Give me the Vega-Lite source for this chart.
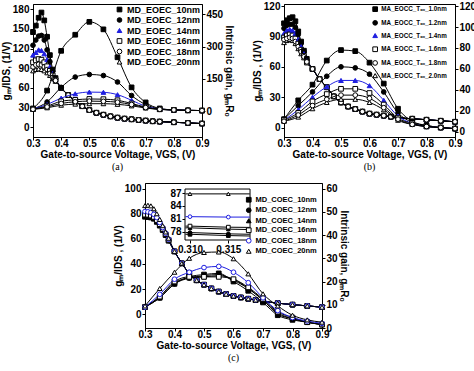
{
"$schema":"https://vega.github.io/schema/vega-lite/v6.json",
"padding":{"left":0,"top":0,"right":0,"bottom":0},
"config":{
 "view":{"stroke":"black","strokeWidth":1},
 "font":"Liberation Sans",
 "axis":{"labelFont":"Liberation Sans","labelFontWeight":"bold","labelFontSize":10,"labelColor":"black","titleFont":"Liberation Sans","titleFontWeight":"bold","titleFontSize":10,"titleColor":"black","grid":false,"tickColor":"black","domainColor":"black","tickSize":3,"labelPadding":1,"titlePadding":1,"labelFlush":false,"labelOverlap":false},
 "axisX":{"labelPadding":-2},
 "legend":{"labelFont":"Liberation Sans","labelFontWeight":"bold","labelColor":"black","symbolStrokeWidth":1,"padding":0,"symbolSize":22,"labelOffset":3,"titlePadding":0},
 "title":{"orient":"bottom","font":"Liberation Serif","fontSize":10,"fontWeight":"normal","color":"black","offset":3,"anchor":"middle","frame":"group"},
 "point":{"opacity":1,"size":22,"strokeWidth":1},
 "line":{"strokeWidth":1,"interpolate":"monotone"}
},
"datasets":{
 "a_gm":[
  {"v":0.30,"10":145,"12":125,"14":110,"16":99,"18":92,"20":86},
  {"v":0.31,"10":155,"12":133,"14":114,"16":102,"18":95,"20":88},
  {"v":0.32,"10":167,"12":139,"14":118,"16":104,"18":96,"20":89},
  {"v":0.33,"10":175,"12":140,"14":117,"16":103,"18":95,"20":88},
  {"v":0.34,"10":163,"12":133,"14":112,"16":99,"18":92,"20":86},
  {"v":0.35,"10":138,"12":118,"14":103,"16":93,"18":88,"20":83},
  {"v":0.36,"10":110,"12":100,"14":92,"16":86,"18":82,"20":79},
  {"v":0.37,"10":88,"12":85,"14":82,"16":79,"18":76,"20":74},
  {"v":0.38,"10":75,"12":74,"14":73,"16":72,"18":71,"20":70},
  {"v":0.40,"10":60,"12":60,"14":60,"16":60,"18":60,"20":60},
  {"v":0.425,"10":49,"12":49,"14":49,"16":49,"18":49,"20":49},
  {"v":0.45,"10":40,"12":40,"14":40,"16":40,"18":40,"20":40},
  {"v":0.475,"10":32,"12":32,"14":32,"16":32,"18":32,"20":32},
  {"v":0.50,"10":26,"12":26,"14":26,"16":26,"18":26,"20":26},
  {"v":0.525,"10":22,"12":22,"14":22,"16":22,"18":22,"20":22},
  {"v":0.55,"10":19,"12":19,"14":19,"16":19,"18":19,"20":19},
  {"v":0.575,"10":16.5,"12":16.5,"14":16.5,"16":16.5,"18":16.5,"20":16.5},
  {"v":0.60,"10":14.5,"12":14.5,"14":14.5,"16":14.5,"18":14.5,"20":14.5},
  {"v":0.625,"10":13,"12":13,"14":13,"16":13,"18":13,"20":13},
  {"v":0.65,"10":12,"12":12,"14":12,"16":12,"18":12,"20":12},
  {"v":0.675,"10":11,"12":11,"14":11,"16":11,"18":11,"20":11},
  {"v":0.70,"10":10,"12":10,"14":10,"16":10,"18":10,"20":10},
  {"v":0.725,"10":9,"12":9,"14":9,"16":9,"18":9,"20":9},
  {"v":0.75,"10":8.5,"12":8.5,"14":8.5,"16":8.5,"18":8.5,"20":8.5},
  {"v":0.80,"10":7.5,"12":7.5,"14":7.5,"16":7.5,"18":7.5,"20":7.5},
  {"v":0.85,"10":6.5,"12":6.5,"14":6.5,"16":6.5,"18":6.5,"20":6.5},
  {"v":0.90,"10":5.5,"12":5.5,"14":5.5,"16":5.5,"18":5.5,"20":5.5}
 ],
 "a_gain":[
  {"v":0.30,"10":12,"12":10,"14":10,"16":9,"18":8,"20":8},
  {"v":0.35,"10":95,"12":42,"14":30,"16":23,"18":19,"20":15},
  {"v":0.40,"10":280,"12":110,"14":60,"16":45,"18":35,"20":27},
  {"v":0.45,"10":355,"12":158,"14":80,"16":52,"18":43,"20":32},
  {"v":0.50,"10":415,"12":170,"14":88,"16":56,"18":46,"20":34},
  {"v":0.55,"10":380,"12":165,"14":87,"16":55,"18":45,"20":34},
  {"v":0.60,"10":250,"12":135,"14":76,"16":50,"18":41,"20":31},
  {"v":0.65,"10":110,"12":72,"14":50,"16":35,"18":30,"20":24},
  {"v":0.70,"10":40,"12":30,"14":22,"16":18,"18":16,"20":14},
  {"v":0.75,"10":12,"12":10,"14":9,"16":8,"18":8,"20":7},
  {"v":0.80,"10":5,"12":5,"14":5,"16":5,"18":5,"20":5},
  {"v":0.85,"10":3,"12":3,"14":3,"16":3,"18":3,"20":3},
  {"v":0.90,"10":2,"12":2,"14":2,"16":2,"18":2,"20":2}
 ],
 "b_gm":[
  {"v":0.30,"10":103,"12":98,"14":93,"16":89,"18":87,"20":84},
  {"v":0.31,"10":106,"12":101,"14":96,"16":91,"18":88,"20":86},
  {"v":0.32,"10":108,"12":102,"14":97,"16":92,"18":89,"20":87},
  {"v":0.33,"10":109,"12":102,"14":96,"16":91,"18":88,"20":86},
  {"v":0.34,"10":105,"12":99,"14":93,"16":88,"18":85,"20":83},
  {"v":0.35,"10":95,"12":92,"14":87,"16":83,"18":80,"20":78},
  {"v":0.36,"10":85,"12":83,"14":80,"16":77,"18":75,"20":73},
  {"v":0.37,"10":76,"12":75,"14":73,"16":71,"18":70,"20":69},
  {"v":0.38,"10":68,"12":67,"14":66,"16":65,"18":65,"20":64},
  {"v":0.40,"10":58,"12":58,"14":58,"16":58,"18":58,"20":58},
  {"v":0.425,"10":48,"12":48,"14":48,"16":48,"18":48,"20":48},
  {"v":0.45,"10":40,"12":40,"14":40,"16":40,"18":40,"20":40},
  {"v":0.475,"10":31,"12":31,"14":31,"16":31,"18":31,"20":31},
  {"v":0.50,"10":25,"12":25,"14":25,"16":25,"18":25,"20":25},
  {"v":0.525,"10":21,"12":21,"14":21,"16":21,"18":21,"20":21},
  {"v":0.55,"10":18.5,"12":18.5,"14":18.5,"16":18.5,"18":18.5,"20":18.5},
  {"v":0.575,"10":16,"12":16,"14":16,"16":16,"18":16,"20":16},
  {"v":0.60,"10":14,"12":14,"14":14,"16":14,"18":14,"20":14},
  {"v":0.625,"10":13,"12":13,"14":13,"16":13,"18":13,"20":13},
  {"v":0.65,"10":12,"12":12,"14":12,"16":12,"18":12,"20":12},
  {"v":0.675,"10":11,"12":11,"14":11,"16":11,"18":11,"20":11},
  {"v":0.70,"10":10,"12":10,"14":10,"16":10,"18":10,"20":10},
  {"v":0.75,"10":9,"12":9,"14":9,"16":9,"18":9,"20":9},
  {"v":0.80,"10":8,"12":8,"14":8,"16":8,"18":8,"20":8},
  {"v":0.85,"10":7,"12":7,"14":7,"16":7,"18":7,"20":7},
  {"v":0.90,"10":6,"12":6,"14":6,"16":6,"18":6,"20":6}
 ],
 "b_gain":[
  {"v":0.30,"10":12,"12":12,"14":11,"16":11,"18":10,"20":10},
  {"v":0.35,"10":30,"12":25,"14":21,"16":18,"18":16,"20":14},
  {"v":0.40,"10":45,"12":38,"14":33,"16":29,"18":25,"20":22},
  {"v":0.45,"10":68,"12":53,"14":43,"16":36,"18":31,"20":28},
  {"v":0.50,"10":78,"12":62,"14":49,"16":41,"18":35,"20":31},
  {"v":0.55,"10":77,"12":61,"14":49,"16":41,"18":35,"20":31},
  {"v":0.60,"10":66,"12":55,"14":44,"16":37,"18":32,"20":28},
  {"v":0.65,"10":46,"12":38,"14":30,"16":26,"18":23,"20":21},
  {"v":0.70,"10":22,"12":18,"14":15,"16":13,"18":12,"20":11},
  {"v":0.75,"10":10,"12":9,"14":8,"16":8,"18":7,"20":7},
  {"v":0.80,"10":6,"12":6,"14":5,"16":5,"18":5,"20":5},
  {"v":0.85,"10":4,"12":4,"14":4,"16":4,"18":4,"20":4},
  {"v":0.90,"10":3,"12":3,"14":3,"16":3,"18":3,"20":3}
 ],
 "c_gm":[
  {"v":0.30,"10":77.6,"12":78,"14":78.6,"16":79.3,"18":81.8,"20":86.5},
  {"v":0.31,"10":77.4,"12":77.8,"14":78.6,"16":79.2,"18":81.5,"20":86.8},
  {"v":0.32,"10":77,"12":77.4,"14":78,"16":78.6,"18":81,"20":86.3},
  {"v":0.33,"10":76,"12":76.4,"14":77,"16":77.5,"18":79.5,"20":84},
  {"v":0.34,"10":73.5,"12":74,"14":74.5,"16":75,"18":77,"20":80},
  {"v":0.35,"10":70.5,"12":71,"14":71.3,"16":71.7,"18":73,"20":75.5},
  {"v":0.36,"10":67,"12":67.3,"14":67.6,"16":68,"18":69,"20":70.5},
  {"v":0.37,"10":63,"12":63.2,"14":63.4,"16":63.7,"18":64.5,"20":65.5},
  {"v":0.38,"10":58.5,"12":58.7,"14":59,"16":59.2,"18":59.8,"20":60.5},
  {"v":0.40,"10":50,"12":50,"14":50,"16":50,"18":50,"20":50},
  {"v":0.425,"10":40.5,"12":40.5,"14":40.5,"16":40.5,"18":40.5,"20":40.5},
  {"v":0.45,"10":32.5,"12":32.5,"14":32.5,"16":32.5,"18":32.5,"20":32.5},
  {"v":0.475,"10":27,"12":27,"14":27,"16":27,"18":27,"20":27},
  {"v":0.50,"10":23.5,"12":23.5,"14":23.5,"16":23.5,"18":23.5,"20":23.5},
  {"v":0.525,"10":20.5,"12":20.5,"14":20.5,"16":20.5,"18":20.5,"20":20.5},
  {"v":0.55,"10":18,"12":18,"14":18,"16":18,"18":18,"20":18},
  {"v":0.575,"10":16,"12":16,"14":16,"16":16,"18":16,"20":16},
  {"v":0.60,"10":14.5,"12":14.5,"14":14.5,"16":14.5,"18":14.5,"20":14.5},
  {"v":0.625,"10":13.3,"12":13.3,"14":13.3,"16":13.3,"18":13.3,"20":13.3},
  {"v":0.65,"10":12.3,"12":12.3,"14":12.3,"16":12.3,"18":12.3,"20":12.3},
  {"v":0.675,"10":11.3,"12":11.3,"14":11.3,"16":11.3,"18":11.3,"20":11.3},
  {"v":0.70,"10":10.3,"12":10.3,"14":10.3,"16":10.3,"18":10.3,"20":10.3},
  {"v":0.75,"10":8.8,"12":8.8,"14":8.8,"16":8.8,"18":8.8,"20":8.8},
  {"v":0.80,"10":7.6,"12":7.6,"14":7.6,"16":7.6,"18":7.6,"20":7.6},
  {"v":0.85,"10":6.6,"12":6.6,"14":6.6,"16":6.6,"18":6.6,"20":6.6},
  {"v":0.90,"10":5.6,"12":5.6,"14":5.6,"16":5.6,"18":5.6,"20":5.6}
 ],
 "c_gain":[
  {"v":0.30,"10":9,"12":9,"14":9,"16":9,"18":9,"20":9.5},
  {"v":0.35,"10":13,"12":13,"14":13.5,"16":13.5,"18":14.5,"20":17},
  {"v":0.40,"10":19,"12":19,"14":19.5,"16":20,"18":21,"20":24},
  {"v":0.45,"10":22,"12":21.5,"14":21.5,"16":22,"18":24,"20":30},
  {"v":0.50,"10":23,"12":22.5,"14":22,"16":22,"18":26,"20":32.5},
  {"v":0.55,"10":23.5,"12":23,"14":22.5,"16":22,"18":26.5,"20":32.7},
  {"v":0.60,"10":20,"12":20.5,"14":21,"16":21,"18":24,"20":29.8},
  {"v":0.65,"10":16,"12":17,"14":17,"16":17.5,"18":19.5,"20":23.3},
  {"v":0.70,"10":11,"12":12,"14":12,"16":12.5,"18":13,"20":14.7},
  {"v":0.75,"10":5.5,"12":6,"14":6.5,"16":7,"18":7.5,"20":9.5},
  {"v":0.80,"10":3.5,"12":4,"14":4,"16":4.5,"18":4.5,"20":5.5},
  {"v":0.85,"10":2.5,"12":2.5,"14":2.5,"16":2.5,"18":3,"20":3.5},
  {"v":0.90,"10":1.5,"12":1.5,"14":1.5,"16":1.5,"18":2,"20":2.5}
 ],
 "c_inset":[
  {"v":0.3094,"10":77.4,"12":77.8,"14":78.9,"16":79.3,"18":81.5,"20":86.8},
  {"v":0.310,"10":77.4,"12":77.8,"14":78.9,"16":79.3,"18":81.5,"20":86.8},
  {"v":0.315,"10":77.1,"12":77.5,"14":78.6,"16":79.05,"18":81.4,"20":86.8},
  {"v":0.3178,"10":77.0,"12":77.4,"14":78.5,"16":79.0,"18":81.4,"20":86.8}
 ]
},
"spacing":9,
"resolve":{"scale":{"stroke":"independent","fill":"independent","shape":"independent"},"legend":{"stroke":"independent","fill":"independent","shape":"independent"}},
"vconcat":[
 {"hconcat":[
  {
   "width":169,"height":133,
   "title":{"text":"(a)"},
   "encoding":{
    "x":{"field":"v","type":"quantitative","scale":{"domain":[0.3,0.9],"nice":false,"zero":false},"axis":{"values":[0.3,0.4,0.5,0.6,0.7,0.8,0.9],"format":".1f","title":"Gate-to-source Voltage, VGS, (V)"}},
    "stroke":{"field":"s","type":"nominal","scale":{"domain":["10","12","14","16","18","20"],"range":["black","black","#1f1fe0","black","black","black"]},"legend":{"title":null,"orient":"none","legendX":82,"legendY":1,"labelFontSize":9,"rowPadding":0.5,"labelExpr":"'MD_EOEC_' + datum.label + 'nm'"}}
   },
   "resolve":{"scale":{"y":"independent"}},
   "layer":[
    {"data":{"name":"a_gm"},"transform":[{"fold":["10","12","14","16","20","18"],"as":["s","y"]}],
     "encoding":{"y":{"field":"y","type":"quantitative","scale":{"domain":[-15,188],"nice":false,"zero":false},"axis":{"orient":"left","values":[0,30,60,90,120,150,180],"title":"gₘ/IDS, (1/V)"}}},
     "layer":[{"mark":"line"},{"mark":"point","encoding":{
       "fill":{"field":"s","type":"nominal","scale":{"domain":["10","12","14","16","18","20"],"range":["black","black","#1f1fe0","white","white","white"]},"legend":{"title":null,"orient":"none","legendX":82,"legendY":1,"labelFontSize":9,"rowPadding":0.5,"labelExpr":"'MD_EOEC_' + datum.label + 'nm'"}},
       "shape":{"field":"s","type":"nominal","scale":{"domain":["10","12","14","16","18","20"],"range":["square","circle","triangle-up","square","circle","triangle-up"]},"legend":{"title":null,"orient":"none","legendX":82,"legendY":1,"labelFontSize":9,"rowPadding":0.5,"labelExpr":"'MD_EOEC_' + datum.label + 'nm'"}}}}]},
    {"data":{"name":"a_gain"},"transform":[{"fold":["10","12","14","16","20","18"],"as":["s","y"]}],
     "encoding":{"y":{"field":"y","type":"quantitative","scale":{"domain":[-121,498],"nice":false,"zero":false},"axis":{"orient":"right","values":[0,150,300,450],"title":"Intrinsic gain, gₘRₒ"}}},
     "layer":[{"mark":"line"},{"mark":"point","encoding":{
       "fill":{"field":"s","type":"nominal","scale":{"domain":["10","12","14","16","18","20"],"range":["black","black","#1f1fe0","white","white","white"]},"legend":{"title":null,"orient":"none","legendX":82,"legendY":1,"labelFontSize":9,"rowPadding":0.5,"labelExpr":"'MD_EOEC_' + datum.label + 'nm'"}},
       "shape":{"field":"s","type":"nominal","scale":{"domain":["10","12","14","16","18","20"],"range":["square","circle","triangle-up","square","circle","triangle-up"]},"legend":{"title":null,"orient":"none","legendX":82,"legendY":1,"labelFontSize":9,"rowPadding":0.5,"labelExpr":"'MD_EOEC_' + datum.label + 'nm'"}}}}]}
   ]
  },
  {
   "width":171,"height":133,
   "title":{"text":"(b)"},
   "encoding":{
    "x":{"field":"v","type":"quantitative","scale":{"domain":[0.3,0.9],"nice":false,"zero":false},"axis":{"values":[0.3,0.4,0.5,0.6,0.7,0.8,0.9],"format":".1f","title":"Gate-to-source Voltage, VGS, (V)"}},
    "stroke":{"field":"s","type":"nominal","scale":{"domain":["10","12","14","16","18","20"],"range":["black","black","#1f1fe0","black","black","black"]},"legend":{"title":null,"orient":"none","legendX":88,"legendY":2,"labelFontSize":6.3,"rowPadding":3.7,"labelExpr":"'MA_EOCC_Tₒₓ_' + substring(datum.label,0,1) + '.' + substring(datum.label,1) + 'nm'"}}
   },
   "resolve":{"scale":{"y":"independent"}},
   "layer":[
    {"data":{"name":"b_gm"},"transform":[{"fold":["10","12","14","16","20","18"],"as":["s","y"]}],
     "encoding":{"y":{"field":"y","type":"quantitative","scale":{"domain":[-9,122],"nice":false,"zero":false},"axis":{"orient":"left","values":[0,30,60,90,120],"title":"gₘ/IDS , (1/V)"}}},
     "layer":[{"mark":"line"},{"mark":"point","encoding":{
       "fill":{"field":"s","type":"nominal","scale":{"domain":["10","12","14","16","18","20"],"range":["black","black","#1f1fe0","white","white","white"]},"legend":{"title":null,"orient":"none","legendX":88,"legendY":2,"labelFontSize":6.3,"rowPadding":3.7,"labelExpr":"'MA_EOCC_Tₒₓ_' + substring(datum.label,0,1) + '.' + substring(datum.label,1) + 'nm'"}},
       "shape":{"field":"s","type":"nominal","scale":{"domain":["10","12","14","16","18","20"],"range":["square","circle","triangle-up","square","circle","triangle-up"]},"legend":{"title":null,"orient":"none","legendX":88,"legendY":2,"labelFontSize":6.3,"rowPadding":3.7,"labelExpr":"'MA_EOCC_Tₒₓ_' + substring(datum.label,0,1) + '.' + substring(datum.label,1) + 'nm'"}}}}]},
    {"data":{"name":"b_gain"},"transform":[{"fold":["10","12","14","16","20","18"],"as":["s","y"]}],
     "encoding":{"y":{"field":"y","type":"quantitative","scale":{"domain":[-5,122],"nice":false,"zero":false},"axis":{"orient":"right","values":[0,20,40,60,80,100,120],"title":"Intrinsic gain, gₘRₒ"}}},
     "layer":[{"mark":"line"},{"mark":"point","encoding":{
       "fill":{"field":"s","type":"nominal","scale":{"domain":["10","12","14","16","18","20"],"range":["black","black","#1f1fe0","white","white","white"]},"legend":{"title":null,"orient":"none","legendX":88,"legendY":2,"labelFontSize":6.3,"rowPadding":3.7,"labelExpr":"'MA_EOCC_Tₒₓ_' + substring(datum.label,0,1) + '.' + substring(datum.label,1) + 'nm'"}},
       "shape":{"field":"s","type":"nominal","scale":{"domain":["10","12","14","16","18","20"],"range":["square","circle","triangle-up","square","circle","triangle-up"]},"legend":{"title":null,"orient":"none","legendX":88,"legendY":2,"labelFontSize":6.3,"rowPadding":3.7,"labelExpr":"'MA_EOCC_Tₒₓ_' + substring(datum.label,0,1) + '.' + substring(datum.label,1) + 'nm'"}}}}]}
   ]
  }
 ],"spacing":16,
 "resolve":{"scale":{"stroke":"independent","fill":"independent","shape":"independent"},"legend":{"stroke":"independent","fill":"independent","shape":"independent"}}},
 {"hconcat":[
  {"width":79,"height":10,"view":{"stroke":null},"data":{"values":[]},"mark":"point","encoding":{}},
  {
  "width":177,"height":145,
  "title":{"text":"(c)"},
  "resolve":{"scale":{"x":"independent","y":"independent"}},
  "layer":[
   {
    "encoding":{
     "x":{"field":"v","type":"quantitative","scale":{"domain":[0.3,0.9],"nice":false,"zero":false},"axis":{"orient":"bottom","values":[0.3,0.4,0.5,0.6,0.7,0.8,0.9],"format":".1f","title":"Gate-to-source Voltage, VGS, (V)"}},
     "stroke":{"field":"s","type":"nominal","scale":{"domain":["10","12","14","16","18","20"],"range":["black","black","black","black","#1f1fe0","black"]},"legend":{"title":null,"orient":"none","legendX":100,"legendY":13,"labelFontSize":7.5,"rowPadding":0.5,"labelExpr":"'MD_COEC_' + datum.label + 'nm'"}}
    },
    "resolve":{"scale":{"y":"independent"}},
    "layer":[
     {"data":{"name":"c_gm"},"transform":[{"fold":["10","12","14","16","18","20"],"as":["s","y"]}],
      "encoding":{"y":{"field":"y","type":"quantitative","scale":{"domain":[-11,104.5],"nice":false,"zero":false},"axis":{"orient":"left","values":[0,20,40,60,80,100],"title":"gₘ/IDS , (1/V)"}}},
      "layer":[{"mark":"line"},{"mark":"point","encoding":{
        "fill":{"field":"s","type":"nominal","scale":{"domain":["10","12","14","16","18","20"],"range":["black","black","black","white","white","white"]},"legend":{"title":null,"orient":"none","legendX":100,"legendY":13,"labelFontSize":7.5,"rowPadding":0.5,"labelExpr":"'MD_COEC_' + datum.label + 'nm'"}},
        "shape":{"field":"s","type":"nominal","scale":{"domain":["10","12","14","16","18","20"],"range":["square","circle","triangle-up","square","circle","triangle-up"]},"legend":{"title":null,"orient":"none","legendX":100,"legendY":13,"labelFontSize":7.5,"rowPadding":0.5,"labelExpr":"'MD_COEC_' + datum.label + 'nm'"}}}}]},
     {"data":{"name":"c_gain"},"transform":[{"fold":["10","12","14","16","18","20"],"as":["s","y"]}],
      "encoding":{"y":{"field":"y","type":"quantitative","scale":{"domain":[0,62.4],"nice":false,"zero":false},"axis":{"orient":"right","values":[0,10,20,30,40,50,60],"title":"Intrinsic gain, gₘRₒ"}}},
      "layer":[{"mark":"line"},{"mark":"point","encoding":{
        "fill":{"field":"s","type":"nominal","scale":{"domain":["10","12","14","16","18","20"],"range":["black","black","black","white","white","white"]},"legend":{"title":null,"orient":"none","legendX":100,"legendY":13,"labelFontSize":7.5,"rowPadding":0.5,"labelExpr":"'MD_COEC_' + datum.label + 'nm'"}},
        "shape":{"field":"s","type":"nominal","scale":{"domain":["10","12","14","16","18","20"],"range":["square","circle","triangle-up","square","circle","triangle-up"]},"legend":{"title":null,"orient":"none","legendX":100,"legendY":13,"labelFontSize":7.5,"rowPadding":0.5,"labelExpr":"'MD_COEC_' + datum.label + 'nm'"}}}}]}
    ]
   },
   {
    "layer":[
     {"data":{"values":[{}]},"mark":{"type":"rect","fill":"white","stroke":"black","strokeWidth":1},
      "encoding":{
       "x":{"datum":0.30935,"type":"quantitative","scale":{"domain":[0.30413,0.32722],"nice":false,"zero":false},"axis":{"orient":"bottom","offset":-88,"values":[0.31,0.315],"format":".3f","title":null,"domain":false,"labelPadding":1}},
       "x2":{"datum":0.31783},
       "y":{"datum":76.07,"type":"quantitative","scale":{"domain":[55.6,89.33],"nice":false,"zero":false},"axis":{"orient":"left","offset":-40,"values":[78,81,84,87],"title":null,"domain":false}},
       "y2":{"datum":87.93}}},
     {"data":{"name":"c_inset"},"transform":[{"fold":["10","12","14","16","18","20"],"as":["s","y"]}],
      "encoding":{
       "x":{"field":"v","type":"quantitative","scale":{"domain":[0.30413,0.32722],"nice":false,"zero":false},"axis":{"orient":"bottom","offset":-88,"values":[0.31,0.315],"format":".3f","title":null,"domain":false,"labelPadding":1}},
       "y":{"field":"y","type":"quantitative","scale":{"domain":[55.6,89.33],"nice":false,"zero":false},"axis":{"orient":"left","offset":-40,"values":[78,81,84,87],"title":null,"domain":false}},
       "stroke":{"field":"s","type":"nominal","scale":{"domain":["10","12","14","16","18","20"],"range":["black","black","black","black","#1f1fe0","black"]},"legend":{"title":null,"orient":"none","legendX":100,"legendY":13,"labelFontSize":7.5,"rowPadding":0.5,"labelExpr":"'MD_COEC_' + datum.label + 'nm'"}}},
      "layer":[{"mark":{"type":"line","interpolate":"linear"}},{"mark":{"type":"point","size":14},"transform":[{"filter":{"field":"v","oneOf":[0.31,0.315]}}],"encoding":{
        "fill":{"field":"s","type":"nominal","scale":{"domain":["10","12","14","16","18","20"],"range":["black","black","black","white","white","white"]},"legend":{"title":null,"orient":"none","legendX":100,"legendY":13,"labelFontSize":7.5,"rowPadding":0.5,"labelExpr":"'MD_COEC_' + datum.label + 'nm'"}},
        "shape":{"field":"s","type":"nominal","scale":{"domain":["10","12","14","16","18","20"],"range":["square","circle","triangle-up","square","circle","triangle-up"]},"legend":{"title":null,"orient":"none","legendX":100,"legendY":13,"labelFontSize":7.5,"rowPadding":0.5,"labelExpr":"'MD_COEC_' + datum.label + 'nm'"}}}}]}
    ]
   }
  ]
  }
 ],"spacing":0,
 "resolve":{"scale":{"stroke":"independent","fill":"independent","shape":"independent"},"legend":{"stroke":"independent","fill":"independent","shape":"independent"}}}
]
}
